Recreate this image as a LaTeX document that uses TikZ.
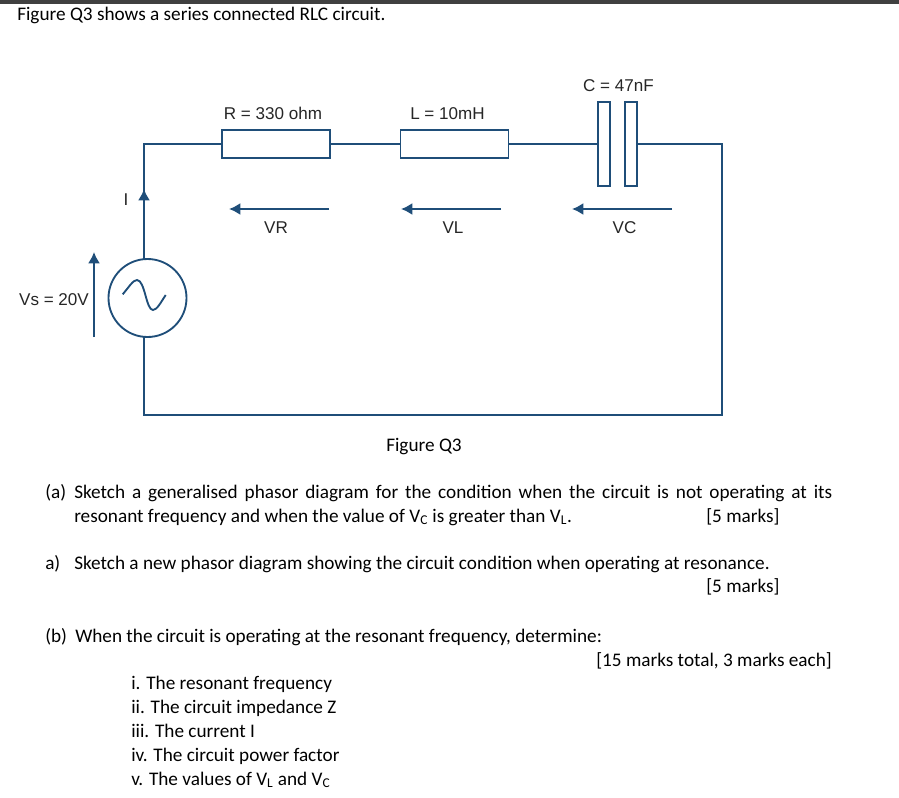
\documentclass[tikz,border=0pt]{standalone}
\usepackage{fontspec}
\setmainfont{Carlito}
\newfontfamily\cctfont{Liberation Sans}
\usetikzlibrary{arrows.meta}
\definecolor{wirecol}{HTML}{1F4E79}
\definecolor{barcol}{HTML}{404040}
\newcommand{\subV}[1]{V\textsubscript{#1}}
\tikzset{
  wire/.style={draw=wirecol,line width=1.4pt},
  part/.style={draw=wirecol,line width=1.4pt,fill=white,minimum width=81pt,minimum height=21pt,inner sep=0pt},
  plate/.style={draw=wirecol,line width=1.4pt,fill=white,minimum width=9pt,minimum height=63pt,inner sep=0pt},
  volt/.style={wire,-{Latex[length=8.5pt,width=9pt]}},
  cct/.style={font=\cctfont\fontsize{12.8}{15}\selectfont,text=black!85,inner sep=0pt,anchor=base},
  qtext/.style={font=\fontsize{14.42}{17}\selectfont,text=black,inner sep=0pt,anchor=base west}
}
\begin{document}
\begin{tikzpicture}[x=0.75pt,y=-0.75pt]
  \useasboundingbox (0,0) rectangle (899,797);
  \fill[barcol] (0,0) rectangle (899,4);

  % circuit
  \node[part] (R) at (276,144) {};
  \node[part] (L) at (454.5,144) {};
  \node[plate] (C1) at (604,144) {};
  \node[plate] (C2) at (631,144) {};
  \node[circle,draw=wirecol,line width=1.4pt,minimum size=58.5pt,inner sep=0pt] (Vs) at (147.5,298) {};
  \coordinate (srctop) at (144,259);
  \coordinate (srcbot) at (144,337);
  \coordinate (tl) at (144,144);
  \coordinate (tr) at (722,144);
  \coordinate (br) at (722,415);
  \coordinate (bl) at (144,415);
  \coordinate (Itail) at (144,232);
  \coordinate (Itip) at (144,189);
  \draw[wire] (srctop)--(tl)--(R.west);
  \draw[wire] (R.east)--(L.west);
  \draw[wire] (L.east)--(C1.west);
  \draw[wire] (C2.east)--(tr)--(br)--(bl)--(srcbot);
  \draw[volt] (Itail)--(Itip);
  \draw[wire] (122.7,294.3) .. controls (129,287) and (133,280) .. (137,280)
    .. controls (145,280) and (146,310) .. (153,310)
    .. controls (157,310) and (161,302) .. (165.7,295);

  % voltage arrows
  \foreach \name/\xa/\xb in {VR/329/229,VL/501/401,VC/672/572} {
    \coordinate (\name a) at (\xa,209);
    \coordinate (\name b) at (\xb,209);
    \draw[volt] (\name a)--(\name b);
  }
  \coordinate (Vsa) at (94,337);
  \coordinate (Vsb) at (94,252);
  \draw[volt] (Vsa)--(Vsb);

  % circuit labels
  \node[cct] (Rlab) at (273,119) {R = 330 ohm};
  \node[cct] (Llab) at (447.5,119) {L = 10mH};
  \node[cct] (Clab) at (618.5,91) {C = 47nF};
  \node[cct] (VRlab) at (276,233) {VR};
  \node[cct] (VLlab) at (453,233) {VL};
  \node[cct] (VClab) at (624.5,233) {VC};
  \node[cct] (Ilab) at (126,205) {I};
  \node[cct] (Vslab) at (54,305) {Vs = 20V};

  % question text
  \node[qtext] (title) at (17,20) {Figure Q3 shows a series connected RLC circuit.};
  \node[qtext] (figcap) at (386,451) {Figure Q3};
  \node[qtext] (qa0) at (45,498) {(a)};
  \node[qtext] (qa1) at (74,498) {\makebox[568.5pt][s]{Sketch a generalised phasor diagram for the condition when the circuit is not operating at its}};
  \node[qtext] (qa2) at (74,522) {resonant frequency and when the value of \subV{C} is greater than \subV{L}.};
  \node[qtext] (ma1) at (706,522) {[5 marks]};
  \node[qtext] (qb1) at (45,569) {a)};
  \node[qtext] (qb2) at (74,569) {Sketch a new phasor diagram showing the circuit condition when operating at resonance.};
  \node[qtext] (ma2) at (706,592) {[5 marks]};
  \node[qtext] (qc0) at (45,642) {(b)};
  \node[qtext] (qc1) at (75,642) {When the circuit is operating at the resonant frequency, determine:};
  \node[qtext] (ma3) at (596,666) {[15 marks total, 3 marks each]};
  \node[qtext] (li1) at (131,689) {i. The resonant frequency};
  \node[qtext] (li2) at (131,713) {ii. The circuit impedance Z};
  \node[qtext] (li3) at (131,737) {iii. The current I};
  \node[qtext] (li4) at (131,761) {iv. The circuit power factor};
  \node[qtext] (li5) at (131,785) {v. The values of \subV{L} and \subV{C}};
\end{tikzpicture}
\end{document}
